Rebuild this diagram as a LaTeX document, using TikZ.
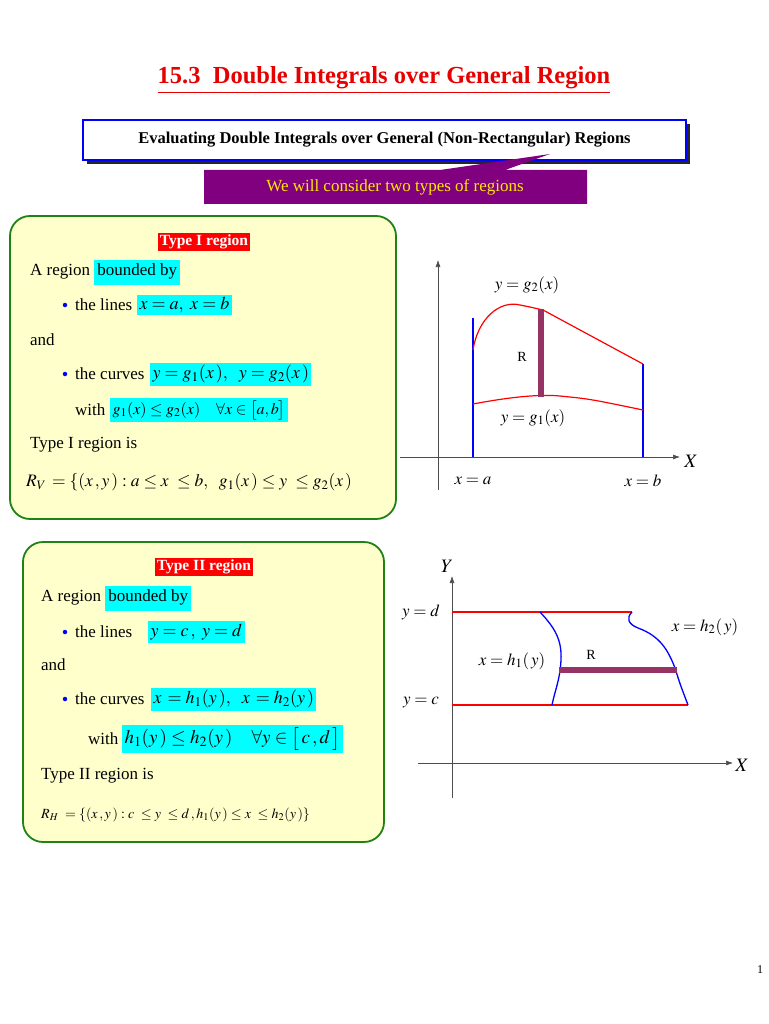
\documentclass[tikz,border=0pt]{standalone}
\usepackage{mathptmx}
\usepackage{fontspec}
\setmainfont{Liberation Serif}
\usetikzlibrary{arrows.meta,shadows}
\definecolor{ybox}{RGB}{255,255,204}
\definecolor{gbord}{RGB}{30,130,20}
\definecolor{cy}{RGB}{0,255,255}
\definecolor{purp}{RGB}{128,0,128}
\definecolor{bar}{RGB}{150,50,100}
\definecolor{ttl}{RGB}{230,0,0}
\begin{document}
\begin{tikzpicture}[x=1pt,y=-1pt,
  txt/.style={anchor=west,inner sep=0pt,font=\fontsize{17}{19}\selectfont},
  hl/.style={fill=cy,inner sep=2.5pt,anchor=west,font=\fontsize{18}{20}\selectfont},
  lab/.style={inner sep=0pt,font=\fontsize{17}{19}\selectfont},
  rbox/.style={draw=gbord,line width=1.8pt,fill=ybox,rounded corners=20pt},
  axis/.style={draw=black!70,line width=0.6pt,-{Latex[length=7pt,width=5pt]}},
  redc/.style={draw=red,line width=1.2pt},
  bluec/.style={draw=blue,line width=1.3pt},
  barl/.style={draw=bar,line width=6pt},
  bul/.style={circle,fill=blue,inner sep=0pt,minimum size=4.5pt}]
\useasboundingbox (0,0) rectangle (768,1024);
\fill[white] (0,0) rectangle (768,1024);
% header
\node[lab,text=ttl,font=\fontsize{24.5}{27}\bfseries] (title) at (384,80) {\underline{15.3\ \ Double Integrals over General Region}};
\fill[black!85] (87,124) rectangle (690,164);
\node[draw=blue,line width=1.5pt,fill=white,minimum width=603pt,minimum height=40pt,inner sep=0pt,font=\fontsize{16.5}{18}\bfseries] (eval) at (384.5,140) {Evaluating Double Integrals over General (Non-Rectangular) Regions};
\fill[purp] (204,170) rectangle (587,204) (440,170) -- (550,154) -- (505,170) -- cycle;
\node[lab,text=yellow!90!orange] (cons) at (395,187) {We will consider two types of regions};
% Type I box
\draw[rbox] (10,216) rectangle (396,519);
\node[fill=red,text=white,inner sep=1.5pt,font=\fontsize{15.5}{17}\bfseries] (t1) at (204,242) {Type I region};
\node[txt] (a1) at (30,272) {A region \colorbox{cy}{\strut bounded by}};
\node[bul] (b1) at (65,305) {};
\node[txt] (l1) at (75,305) {the lines};
\node[hl] (m1) at (137,305) {$x = a,\ x = b$};
\node[txt] (and1) at (30,340) {and};
\node[bul] (b2) at (65,374) {};
\node[txt] (c1) at (75,374) {the curves};
\node[hl] (m2) at (150,374) {$y = g_1(x\,),\ \ y = g_2(x\,)$};
\node[txt] (w1) at (75,410) {with};
\node[hl,font=\fontsize{16}{18}\selectfont] (m3) at (110,410) {$g_1(x)\le g_2(x)\quad \forall x\in\bigl[a,b\bigr]$};
\node[txt] (ti1) at (30,445) {Type I region is};
\node[txt,font=\fontsize{17.5}{19}\selectfont] (rv) at (26,482) {$R_V\, = \{(x\,,y\,): a \le x\ \le b,\ \ g_1(x\,)\le y\ \le g_2(x\,)$};
% Graph I
\coordinate (ya0) at (438,490); \coordinate (ya1) at (438,260);
\coordinate (xa0) at (400,457); \coordinate (xa1) at (680,457);
\draw[axis] (ya0) -- (ya1);
\draw[axis] (xa0) -- (xa1);
\node[lab,font=\fontsize{19}{21}\selectfont] (X1) at (691,461) {$X$};
\draw[bluec] (473,457) -- (473,318);
\draw[bluec] (643,457) -- (643,364);
\draw[redc] (473,350) .. controls (478,318) and (500,300) .. (520,305) .. controls (530,307) .. (543,310) -- (643,364);
\draw[redc] (473,404) .. controls (510,397) and (540,394) .. (560,396) .. controls (590,399) .. (643,410);
\draw[barl] (541,309) -- (541,397);
\node[lab,font=\fontsize{14}{16}\selectfont] (R1) at (522,357) {R};
\node[lab] (g2) at (527,285) {$y = g_2(x)$};
\node[lab] (g1) at (533,418) {$y = g_1(x)$};
\node[lab] (xa) at (473,481) {$x = a$};
\node[lab] (xb) at (643,481) {$x = b$};
% Type II box
\draw[rbox] (23,542) rectangle (384,842);
\node[fill=red,text=white,inner sep=1.5pt,font=\fontsize{15.5}{17}\bfseries] (t2) at (204,567) {Type II region};
\node[txt] (a2) at (41,598) {A region \colorbox{cy}{\strut bounded by}};
\node[bul] (b3) at (65,632) {};
\node[txt] (l2) at (75,632) {the lines};
\node[hl] (m4) at (148,632) {$y = c\,,\ y = d$};
\node[txt] (and2) at (41,665) {and};
\node[bul] (b4) at (65,699) {};
\node[txt] (c2) at (75,699) {the curves};
\node[hl] (m5) at (151,699) {$x\, = h_1(y\,),\ \ x\, = h_2(y\,)$};
\node[txt] (w2) at (88,739) {with};
\node[hl,font=\fontsize{19}{21}\selectfont] (m6) at (122,739) {$h_1(y\,)\le h_2(y\,)\quad \forall y\in\bigl[\,c\,,d\,\bigr]$};
\node[txt] (ti2) at (41,776) {Type II region is};
\node[txt,font=\fontsize{14}{16}\selectfont] (rh) at (41,815) {$R_H\ = \{(x\,,y\,): c\ \le y\ \le d\,, h_1(y\,)\le x\ \le h_2(y\,)\}$};
% Graph II
\coordinate (yb0) at (452,798); \coordinate (yb1) at (452,576);
\coordinate (xb0) at (418,763); \coordinate (xb1) at (733,763);
\draw[axis] (yb0) -- (yb1);
\draw[axis] (xb0) -- (xb1);
\node[lab,font=\fontsize{19}{21}\selectfont] (Y2) at (447,566) {$Y$};
\node[lab,font=\fontsize{19}{21}\selectfont] (X2) at (742,765) {$X$};
\draw[redc] (452,612) -- (632,612);
\draw[redc] (452,705) -- (688,705);
\draw[bluec] (540,612) .. controls (555,628) and (562,640) .. (561,660) .. controls (560,680) and (555,690) .. (552,705);
\draw[bluec] (632,612) .. controls (626,618) and (628,624) .. (638,628) .. controls (660,636) and (668,650) .. (675,668) .. controls (680,684) .. (688,705);
\draw[barl] (559,670) -- (677,670);
\node[lab,font=\fontsize{14}{16}\selectfont] (R2) at (591,655) {R};
\node[lab] (yd) at (421,612) {$y = d$};
\node[lab] (yc) at (421,703) {$y = c$};
\node[lab] (h1) at (512,661) {$x = h_1(\,y)$};
\node[lab] (h2) at (705,627) {$x = h_2(\,y)$};
\node[lab,font=\fontsize{12}{14}\selectfont] (pg) at (760,970) {1};
\end{tikzpicture}
\end{document}
